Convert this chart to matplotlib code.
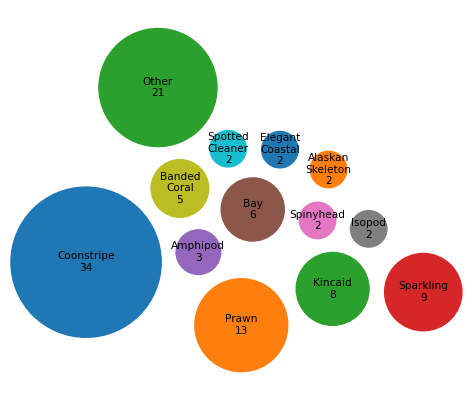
import numpy as np
import matplotlib
matplotlib.use('Agg')
import matplotlib.pyplot as plt

# shrimp species counts
species = ['Coonstripe', 'Prawn', 'Kincaid', 'Sparkling', 'Amphipod', 'Bay',
           'Spinyhead', 'Isopod', 'Banded Coral', 'Spotted Cleaner',
           'Elegant Coastal', 'Alaskan Skeleton', 'Other']
counts = [34, 13, 8, 9, 3, 6, 2, 2, 5, 2, 2, 2, 21]

# packed bubble centres (data units)
bubble_x = [3.77, 10.57, 14.57, 18.54, 8.69, 11.07, 13.91, 16.15, 7.88,
            9.99, 12.26, 14.39, 6.92]
bubble_y = [6.08, 3.32, 4.91, 4.77, 6.52, 8.39, 7.91, 7.54, 9.31,
            11.05, 11.01, 10.14, 13.73]


def plot():
    fig = plt.figure(figsize=(4.74, 4.01), dpi=100)
    ax = fig.add_axes([0, 0, 1, 1])

    radii = np.sqrt(np.array(counts) / np.pi)
    for i, name in enumerate(species):
        circ = plt.Circle((bubble_x[i], bubble_y[i]), radii[i],
                          color=f'C{i % 10}')
        ax.add_patch(circ)
        label = name.replace(' ', '\n') + '\n' + str(counts[i])
        ax.text(bubble_x[i], bubble_y[i], label, fontsize=7.6,
                ha='center', va='center', multialignment='center')

    ax.set_xlim(0, 474 / 22.83)
    ax.set_ylim(0, 401 / 22.83)
    ax.set_aspect('equal')
    ax.axis('off')

    fig.savefig('out.png', dpi=100)


if __name__ == '__main__':
    plot()
